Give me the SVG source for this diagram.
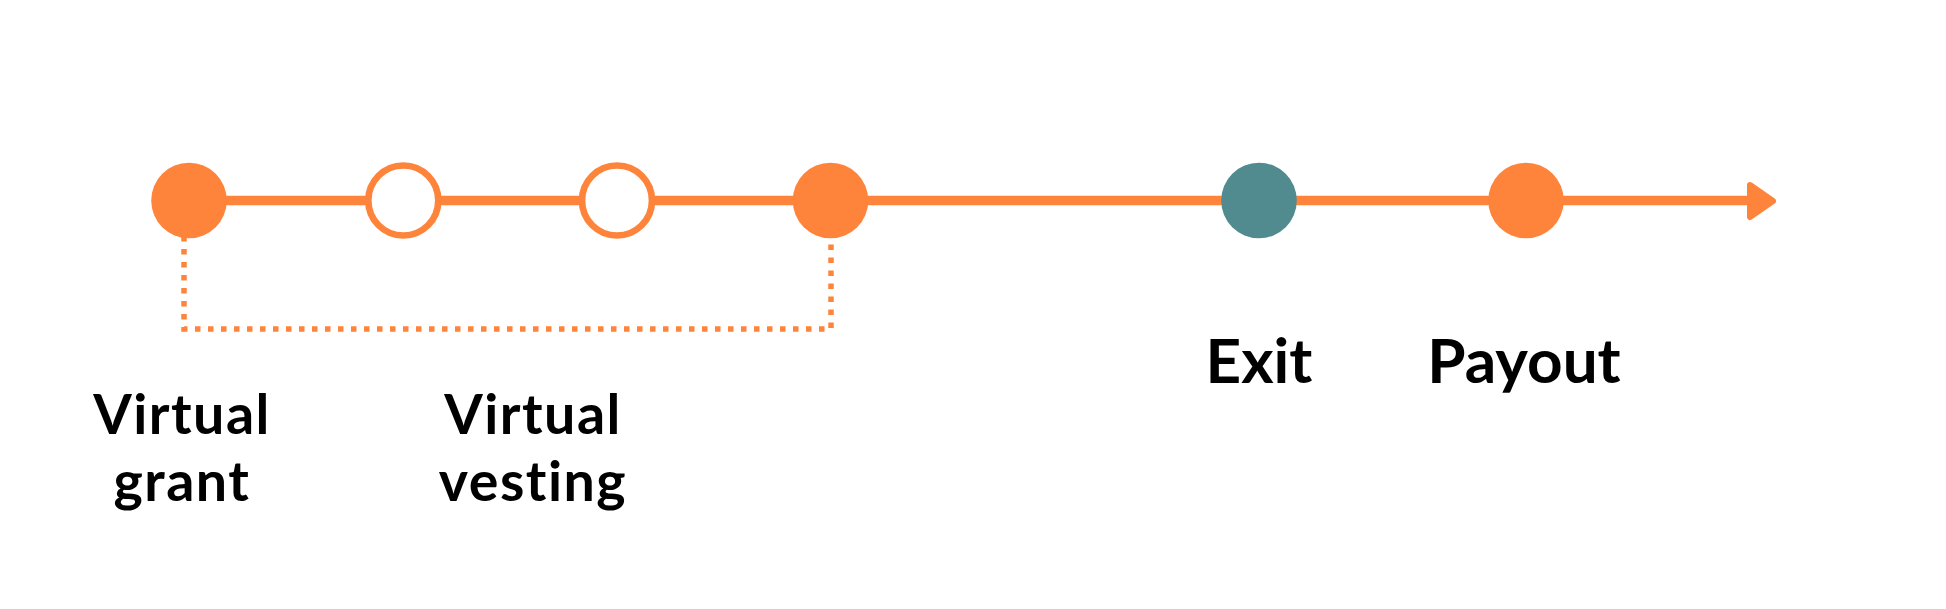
<svg xmlns="http://www.w3.org/2000/svg" width="1946" height="609" viewBox="0 0 1946 609">
<style>
.lbl{font-family:Lato,"Open Sans","Liberation Sans",sans-serif;font-weight:700;font-size:62px;fill:#000;text-anchor:middle}
.two{font-size:55.5px;letter-spacing:1.5px}
.full{fill:#FF843B}
.open{fill:#fff;stroke:#FF843B;stroke-width:6.7}
.exit{fill:#518A8F}
</style>
<rect width="1946" height="609" fill="#fff"/>
<g id="connectors">
<line x1="189" y1="200.5" x2="1752" y2="200.5" stroke="#FF843B" stroke-width="9.3"/>
<path d="M1750,185 L1773,201 L1750,217 Z" fill="#FF843B" stroke="#FF843B" stroke-width="6" stroke-linejoin="round"/>
<path d="M184,236 V329 H831 V236" fill="none" stroke="#FF843B" stroke-width="5.5" stroke-dasharray="5.5 7.5"/>
</g>
<g id="n-grant"><circle class="full" cx="189" cy="200.5" r="37.8"/><text class="lbl two" x="182" y="434"><tspan x="182">Virtual</tspan><tspan x="182" dy="67">grant</tspan></text></g>
<g id="n-step1"><circle class="open" cx="403.3" cy="200.5" r="35"/></g>
<g id="n-step2"><circle class="open" cx="617" cy="200.5" r="35"/></g>
<g id="n-vesting"><circle class="full" cx="830.5" cy="200.5" r="37.8"/><text class="lbl two" x="533" y="434"><tspan x="533">Virtual</tspan><tspan x="533" dy="67">vesting</tspan></text></g>
<g id="n-exit"><circle class="exit" cx="1259" cy="200.5" r="37.8"/><text class="lbl" x="1259" y="383">Exit</text></g>
<g id="n-payout"><circle class="full" cx="1526" cy="200.5" r="37.8"/><text class="lbl" x="1524" y="383">Payout</text></g>
</svg>
